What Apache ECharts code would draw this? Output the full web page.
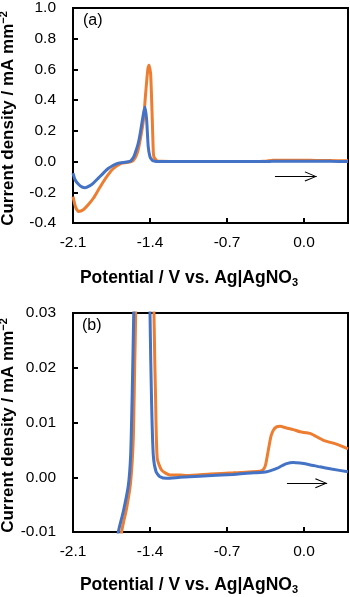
<!DOCTYPE html>
<html>
<head>
<meta charset="utf-8">
<script src="https://cdn.jsdelivr.net/npm/echarts@6/dist/echarts.min.js"></script>
<style>
html,body{margin:0;padding:0;background:#fff;}
#chart{width:350px;height:597px;}
</style>
</head>
<body>
<div id="chart"></div>
<script>
// Potential (V vs. Ag|AgNO3) and current density (mA mm^-2)
const potentialBlue = [-2.10,-2.08,-2.05,-2.02,-1.99,-1.95,-1.915,-1.87,-1.824,-1.78,-1.733,-1.70,-1.688,-1.643,-1.597,-1.576,-1.564,-1.555,-1.548,-1.536,-1.51,-1.49,-1.46,-1.445,-1.43,-1.416,-1.40,-1.385,-1.37,-1.345,-1.309,-1.248,-1.127,-0.95,-0.645,-0.45,-0.339,-0.29,-0.248,-0.20,-0.158,-0.10,-0.036,0.05,0.145,0.25,0.40];
const currentBlue = [-0.075,-0.12,-0.148,-0.165,-0.17,-0.158,-0.14,-0.108,-0.075,-0.045,-0.024,-0.013,-0.010,-0.0063,-0.0015,0.004,0.0132,0.0223,0.03,0.052,0.11,0.18,0.31,0.355,0.267,0.095,0.03,0.0132,0.004,0.001,0.0001,-0.0002,0,0.0002,0.0005,0.0008,0.001,0.0013,0.0016,0.0021,0.0025,0.0027,0.0026,0.0023,0.0019,0.0015,0.001];
const potentialOrange = [-2.10,-2.075,-2.05,-2.006,-1.96,-1.915,-1.87,-1.824,-1.785,-1.749,-1.71,-1.673,-1.658,-1.613,-1.576,-1.552,-1.54,-1.53,-1.51,-1.49,-1.46,-1.44,-1.42,-1.409,-1.394,-1.379,-1.37,-1.364,-1.348,-1.334,-1.294,-1.218,-1.127,-1.066,-0.85,-0.645,-0.4,-0.37,-0.35,-0.325,-0.3,-0.279,-0.25,-0.218,-0.16,-0.097,-0.036,0.055,0.173,0.30,0.40];
const currentOrange = [-0.228,-0.30,-0.325,-0.314,-0.28,-0.239,-0.185,-0.131,-0.09,-0.056,-0.032,-0.016,-0.010,-0.0057,-0.0009,0.007,0.0193,0.03,0.07,0.137,0.267,0.44,0.6,0.628,0.568,0.267,0.06,0.03,0.0132,0.0034,0.0013,0.0004,0.0004,0.0003,0.0006,0.0008,0.0011,0.0014,0.0022,0.0049,0.0075,0.0086,0.0092,0.0093,0.009,0.0087,0.0083,0.008,0.0068,0.006,0.0052];

const xTicks = [-2.1, -1.4, -0.7, 0.0];
const yTicksA = [-0.4, -0.2, 0.0, 0.2, 0.4, 0.6, 0.8, 1.0];
const yTicksB = [-0.01, 0.00, 0.01, 0.02, 0.03];

// scan-direction arrows: [x start, x end, y]
const arrowA = [-0.264, 0.115, -0.097];
const arrowB = [-0.155, 0.21, -0.0011];

const FONT = 'Liberation Sans, Arial, sans-serif';
const ORANGE = '#ED7D31', BLUE = '#4472C4';

function zip(xs, ys){ return xs.map((x,i)=>[x, ys[i]]); }

const chevron = 'path://M0,10 L5,0 L10,10 L9.1,10.5 L5,1.9 L0.9,10.5 Z M5,-10 L5.01,-10 L5,-9.99 Z';

function xAxis(gridIndex, gap){
  return {
    type:'value', gridIndex, min: xTicks[0], max: 0.4, interval: 0.7,
    axisLine:{show:true, onZero:false, lineStyle:{color:'#000', width:2}},
    axisTick:{show:true, inside:true, length:5, lineStyle:{color:'#000', width:2}},
    splitLine:{show:false},
    axisLabel:{color:'#000', fontSize:15.5, fontFamily:FONT, margin:12,
      formatter:v=>{ if (Math.abs(v-0.4)<1e-6) return ''; if (Math.abs(v)<1e-9) return '0.0'; return v.toFixed(1);} },
    name:'{t|Potential / V vs. Ag|AgNO}{s|3}', nameLocation:'middle', nameGap:gap, nameMoveOverlap:false,
    nameTextStyle:{padding:[0,43,0,0], rich:{
      t:{fontSize:17.5, fontWeight:'bold', fontFamily:FONT, color:'#000'},
      s:{fontSize:11, fontWeight:'bold', fontFamily:FONT, color:'#000', padding:[9,0,0,0]}
    }}
  };
}
function yAxis(gridIndex, ticks, dec){
  return {
    type:'value', gridIndex, min: ticks[0], max: ticks[ticks.length-1],
    interval: Math.round((ticks[1]-ticks[0])*1000)/1000,
    axisLine:{show:true, onZero:false, lineStyle:{color:'#000', width:2}},
    axisTick:{show:true, inside:true, length:5, lineStyle:{color:'#000', width:2}},
    splitLine:{show:false},
    axisLabel:{color:'#000', fontSize:15.5, fontFamily:FONT, margin:17,
      formatter:v=>{ let s=(Math.abs(v)<1e-9?0:v).toFixed(dec); return s; }},
    name:'{t|Current density / mA mm}{s|−2}', nameLocation:'middle', nameGap:55, nameRotate:90, nameMoveOverlap:false,
    nameTextStyle:{padding:[0,6,0,0], rich:{
      t:{fontSize:17, fontWeight:'bold', fontFamily:FONT, color:'#000'},
      s:{fontSize:11, fontWeight:'bold', fontFamily:FONT, color:'#000', padding:[0,0,9,0]}
    }}
  };
}
function curve(name, xs, ys, color, idx){
  return {type:'line', name, xAxisIndex:idx, yAxisIndex:idx, data:zip(xs,ys),
    showSymbol:false, symbol:'none', smooth:0.2, clip:true,
    lineStyle:{color, width:3}, itemStyle:{color}, z:color===BLUE?3:2};
}
function arrowLine(a, idx){
  return {type:'line', xAxisIndex:idx, yAxisIndex:idx, data:[], silent:true,
    markLine:{silent:true, animation:false, symbol:['none', chevron], symbolSize:[10,24],
      label:{show:false}, lineStyle:{color:'#000', width:1, type:'solid'},
      data:[[{coord:[a[0],a[2]]},{coord:[a[1],a[2]]}]]}};
}

const chart = echarts.init(document.getElementById('chart'), null, {renderer:'canvas'});
chart.setOption({
  animation:false,
  backgroundColor:'#fff',
  textStyle:{fontFamily:FONT},
  title:[
    {text:'(a)', left:83, top:13, padding:0, textStyle:{fontSize:16, fontWeight:'normal', color:'#000', fontFamily:FONT}},
    {text:'(b)', left:82, top:318, padding:0, textStyle:{fontSize:16, fontWeight:'normal', color:'#000', fontFamily:FONT}}
  ],
  grid:[
    {left:73, top:8, right:2, height:215, containLabel:false, outerBoundsMode:'none', show:true, borderColor:'#000', borderWidth:2, backgroundColor:'transparent'},
    {left:73, top:313, right:2, height:219, containLabel:false, outerBoundsMode:'none', show:true, borderColor:'#000', borderWidth:2, backgroundColor:'transparent'}
  ],
  xAxis:[xAxis(0,45), xAxis(1,43)],
  yAxis:[yAxis(0,yTicksA,1), yAxis(1,yTicksB,2)],
  series:[
    curve('orange', potentialOrange, currentOrange, ORANGE, 0),
    curve('blue', potentialBlue, currentBlue, BLUE, 0),
    curve('orange', potentialOrange, currentOrange, ORANGE, 1),
    curve('blue', potentialBlue, currentBlue, BLUE, 1),
    arrowLine(arrowA, 0),
    arrowLine(arrowB, 1)
  ]
});
</script>
</body>
</html>
